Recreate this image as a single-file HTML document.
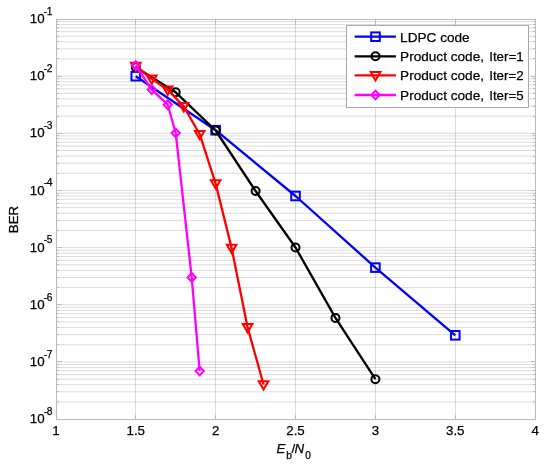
<!DOCTYPE html>
<html><head><meta charset="utf-8"><title>BER vs Eb/N0</title><style>html,body{margin:0;padding:0;background:#fff;width:550px;height:465px;overflow:hidden}svg{display:block;filter:blur(0.3px)}.leg text{stroke:#000;stroke-width:0.25px}</style></head><body>
<svg width="550" height="465" viewBox="0 0 550 465" style="font-family:'Liberation Sans',Arial,sans-serif;font-size:13.3px" fill="#000">
<rect width="550" height="465" fill="#fff"/>
<g shape-rendering="crispEdges">
<rect x="135" y="19" width="1" height="400" fill="rgba(38,38,38,0.16)"/>
<rect x="215" y="19" width="1" height="400" fill="rgba(38,38,38,0.16)"/>
<rect x="295" y="19" width="1" height="400" fill="rgba(38,38,38,0.16)"/>
<rect x="375" y="19" width="1" height="400" fill="rgba(38,38,38,0.16)"/>
<rect x="455" y="19" width="1" height="400" fill="rgba(38,38,38,0.16)"/>
</g>
<g>
<rect x="57" y="75.66" width="478" height="1" fill="rgba(38,38,38,0.16)"/>
<rect x="57" y="58.45" width="478" height="1" fill="rgba(38,38,38,0.16)"/>
<rect x="57" y="48.39" width="478" height="1" fill="rgba(38,38,38,0.16)"/>
<rect x="57" y="41.25" width="478" height="1" fill="rgba(38,38,38,0.16)"/>
<rect x="57" y="35.71" width="478" height="1" fill="rgba(38,38,38,0.16)"/>
<rect x="57" y="31.18" width="478" height="1" fill="rgba(38,38,38,0.16)"/>
<rect x="57" y="27.35" width="478" height="1" fill="rgba(38,38,38,0.16)"/>
<rect x="57" y="24.04" width="478" height="1" fill="rgba(38,38,38,0.16)"/>
<rect x="57" y="21.12" width="478" height="1" fill="rgba(38,38,38,0.16)"/>
<rect x="57" y="132.81" width="478" height="1" fill="rgba(38,38,38,0.16)"/>
<rect x="57" y="115.61" width="478" height="1" fill="rgba(38,38,38,0.16)"/>
<rect x="57" y="105.54" width="478" height="1" fill="rgba(38,38,38,0.16)"/>
<rect x="57" y="98.40" width="478" height="1" fill="rgba(38,38,38,0.16)"/>
<rect x="57" y="92.86" width="478" height="1" fill="rgba(38,38,38,0.16)"/>
<rect x="57" y="88.34" width="478" height="1" fill="rgba(38,38,38,0.16)"/>
<rect x="57" y="84.51" width="478" height="1" fill="rgba(38,38,38,0.16)"/>
<rect x="57" y="81.20" width="478" height="1" fill="rgba(38,38,38,0.16)"/>
<rect x="57" y="78.27" width="478" height="1" fill="rgba(38,38,38,0.16)"/>
<rect x="57" y="189.97" width="478" height="1" fill="rgba(38,38,38,0.16)"/>
<rect x="57" y="172.77" width="478" height="1" fill="rgba(38,38,38,0.16)"/>
<rect x="57" y="162.70" width="478" height="1" fill="rgba(38,38,38,0.16)"/>
<rect x="57" y="155.56" width="478" height="1" fill="rgba(38,38,38,0.16)"/>
<rect x="57" y="150.02" width="478" height="1" fill="rgba(38,38,38,0.16)"/>
<rect x="57" y="145.49" width="478" height="1" fill="rgba(38,38,38,0.16)"/>
<rect x="57" y="141.67" width="478" height="1" fill="rgba(38,38,38,0.16)"/>
<rect x="57" y="138.35" width="478" height="1" fill="rgba(38,38,38,0.16)"/>
<rect x="57" y="135.43" width="478" height="1" fill="rgba(38,38,38,0.16)"/>
<rect x="57" y="247.13" width="478" height="1" fill="rgba(38,38,38,0.16)"/>
<rect x="57" y="229.92" width="478" height="1" fill="rgba(38,38,38,0.16)"/>
<rect x="57" y="219.86" width="478" height="1" fill="rgba(38,38,38,0.16)"/>
<rect x="57" y="212.72" width="478" height="1" fill="rgba(38,38,38,0.16)"/>
<rect x="57" y="207.18" width="478" height="1" fill="rgba(38,38,38,0.16)"/>
<rect x="57" y="202.65" width="478" height="1" fill="rgba(38,38,38,0.16)"/>
<rect x="57" y="198.82" width="478" height="1" fill="rgba(38,38,38,0.16)"/>
<rect x="57" y="195.51" width="478" height="1" fill="rgba(38,38,38,0.16)"/>
<rect x="57" y="192.59" width="478" height="1" fill="rgba(38,38,38,0.16)"/>
<rect x="57" y="304.28" width="478" height="1" fill="rgba(38,38,38,0.16)"/>
<rect x="57" y="287.08" width="478" height="1" fill="rgba(38,38,38,0.16)"/>
<rect x="57" y="277.01" width="478" height="1" fill="rgba(38,38,38,0.16)"/>
<rect x="57" y="269.87" width="478" height="1" fill="rgba(38,38,38,0.16)"/>
<rect x="57" y="264.33" width="478" height="1" fill="rgba(38,38,38,0.16)"/>
<rect x="57" y="259.81" width="478" height="1" fill="rgba(38,38,38,0.16)"/>
<rect x="57" y="255.98" width="478" height="1" fill="rgba(38,38,38,0.16)"/>
<rect x="57" y="252.67" width="478" height="1" fill="rgba(38,38,38,0.16)"/>
<rect x="57" y="249.74" width="478" height="1" fill="rgba(38,38,38,0.16)"/>
<rect x="57" y="361.44" width="478" height="1" fill="rgba(38,38,38,0.16)"/>
<rect x="57" y="344.24" width="478" height="1" fill="rgba(38,38,38,0.16)"/>
<rect x="57" y="334.17" width="478" height="1" fill="rgba(38,38,38,0.16)"/>
<rect x="57" y="327.03" width="478" height="1" fill="rgba(38,38,38,0.16)"/>
<rect x="57" y="321.49" width="478" height="1" fill="rgba(38,38,38,0.16)"/>
<rect x="57" y="316.97" width="478" height="1" fill="rgba(38,38,38,0.16)"/>
<rect x="57" y="313.14" width="478" height="1" fill="rgba(38,38,38,0.16)"/>
<rect x="57" y="309.82" width="478" height="1" fill="rgba(38,38,38,0.16)"/>
<rect x="57" y="306.90" width="478" height="1" fill="rgba(38,38,38,0.16)"/>
<rect x="57" y="401.39" width="478" height="1" fill="rgba(38,38,38,0.16)"/>
<rect x="57" y="391.33" width="478" height="1" fill="rgba(38,38,38,0.16)"/>
<rect x="57" y="384.19" width="478" height="1" fill="rgba(38,38,38,0.16)"/>
<rect x="57" y="378.65" width="478" height="1" fill="rgba(38,38,38,0.16)"/>
<rect x="57" y="374.12" width="478" height="1" fill="rgba(38,38,38,0.16)"/>
<rect x="57" y="370.30" width="478" height="1" fill="rgba(38,38,38,0.16)"/>
<rect x="57" y="366.98" width="478" height="1" fill="rgba(38,38,38,0.16)"/>
<rect x="57" y="364.06" width="478" height="1" fill="rgba(38,38,38,0.16)"/>
</g>
<g shape-rendering="crispEdges">
<rect x="56" y="414.5" width="1" height="5.5" fill="#bcbcbc"/>
<rect x="56" y="19" width="1" height="5.5" fill="#bcbcbc"/>
<rect x="135" y="414.5" width="1" height="5.5" fill="#bcbcbc"/>
<rect x="135" y="19" width="1" height="5.5" fill="#bcbcbc"/>
<rect x="215" y="414.5" width="1" height="5.5" fill="#bcbcbc"/>
<rect x="215" y="19" width="1" height="5.5" fill="#bcbcbc"/>
<rect x="295" y="414.5" width="1" height="5.5" fill="#bcbcbc"/>
<rect x="295" y="19" width="1" height="5.5" fill="#bcbcbc"/>
<rect x="375" y="414.5" width="1" height="5.5" fill="#bcbcbc"/>
<rect x="375" y="19" width="1" height="5.5" fill="#bcbcbc"/>
<rect x="455" y="414.5" width="1" height="5.5" fill="#bcbcbc"/>
<rect x="455" y="19" width="1" height="5.5" fill="#bcbcbc"/>
<rect x="535" y="414.5" width="1" height="5.5" fill="#bcbcbc"/>
<rect x="535" y="19" width="1" height="5.5" fill="#bcbcbc"/>
<rect x="56" y="19" width="5.5" height="1" fill="#bcbcbc"/>
<rect x="530.5" y="19" width="5.5" height="1" fill="#bcbcbc"/>
<rect x="56" y="58" width="3.2" height="1" fill="#bcbcbc"/>
<rect x="532.8" y="58" width="3.2" height="1" fill="#bcbcbc"/>
<rect x="56" y="48" width="3.2" height="1" fill="#bcbcbc"/>
<rect x="532.8" y="48" width="3.2" height="1" fill="#bcbcbc"/>
<rect x="56" y="41" width="3.2" height="1" fill="#bcbcbc"/>
<rect x="532.8" y="41" width="3.2" height="1" fill="#bcbcbc"/>
<rect x="56" y="36" width="3.2" height="1" fill="#bcbcbc"/>
<rect x="532.8" y="36" width="3.2" height="1" fill="#bcbcbc"/>
<rect x="56" y="31" width="3.2" height="1" fill="#bcbcbc"/>
<rect x="532.8" y="31" width="3.2" height="1" fill="#bcbcbc"/>
<rect x="56" y="27" width="3.2" height="1" fill="#bcbcbc"/>
<rect x="532.8" y="27" width="3.2" height="1" fill="#bcbcbc"/>
<rect x="56" y="24" width="3.2" height="1" fill="#bcbcbc"/>
<rect x="532.8" y="24" width="3.2" height="1" fill="#bcbcbc"/>
<rect x="56" y="21" width="3.2" height="1" fill="#bcbcbc"/>
<rect x="532.8" y="21" width="3.2" height="1" fill="#bcbcbc"/>
<rect x="56" y="76" width="5.5" height="1" fill="#bcbcbc"/>
<rect x="530.5" y="76" width="5.5" height="1" fill="#bcbcbc"/>
<rect x="56" y="116" width="3.2" height="1" fill="#bcbcbc"/>
<rect x="532.8" y="116" width="3.2" height="1" fill="#bcbcbc"/>
<rect x="56" y="106" width="3.2" height="1" fill="#bcbcbc"/>
<rect x="532.8" y="106" width="3.2" height="1" fill="#bcbcbc"/>
<rect x="56" y="98" width="3.2" height="1" fill="#bcbcbc"/>
<rect x="532.8" y="98" width="3.2" height="1" fill="#bcbcbc"/>
<rect x="56" y="93" width="3.2" height="1" fill="#bcbcbc"/>
<rect x="532.8" y="93" width="3.2" height="1" fill="#bcbcbc"/>
<rect x="56" y="88" width="3.2" height="1" fill="#bcbcbc"/>
<rect x="532.8" y="88" width="3.2" height="1" fill="#bcbcbc"/>
<rect x="56" y="84" width="3.2" height="1" fill="#bcbcbc"/>
<rect x="532.8" y="84" width="3.2" height="1" fill="#bcbcbc"/>
<rect x="56" y="81" width="3.2" height="1" fill="#bcbcbc"/>
<rect x="532.8" y="81" width="3.2" height="1" fill="#bcbcbc"/>
<rect x="56" y="78" width="3.2" height="1" fill="#bcbcbc"/>
<rect x="532.8" y="78" width="3.2" height="1" fill="#bcbcbc"/>
<rect x="56" y="133" width="5.5" height="1" fill="#bcbcbc"/>
<rect x="530.5" y="133" width="5.5" height="1" fill="#bcbcbc"/>
<rect x="56" y="173" width="3.2" height="1" fill="#bcbcbc"/>
<rect x="532.8" y="173" width="3.2" height="1" fill="#bcbcbc"/>
<rect x="56" y="163" width="3.2" height="1" fill="#bcbcbc"/>
<rect x="532.8" y="163" width="3.2" height="1" fill="#bcbcbc"/>
<rect x="56" y="156" width="3.2" height="1" fill="#bcbcbc"/>
<rect x="532.8" y="156" width="3.2" height="1" fill="#bcbcbc"/>
<rect x="56" y="150" width="3.2" height="1" fill="#bcbcbc"/>
<rect x="532.8" y="150" width="3.2" height="1" fill="#bcbcbc"/>
<rect x="56" y="145" width="3.2" height="1" fill="#bcbcbc"/>
<rect x="532.8" y="145" width="3.2" height="1" fill="#bcbcbc"/>
<rect x="56" y="142" width="3.2" height="1" fill="#bcbcbc"/>
<rect x="532.8" y="142" width="3.2" height="1" fill="#bcbcbc"/>
<rect x="56" y="138" width="3.2" height="1" fill="#bcbcbc"/>
<rect x="532.8" y="138" width="3.2" height="1" fill="#bcbcbc"/>
<rect x="56" y="135" width="3.2" height="1" fill="#bcbcbc"/>
<rect x="532.8" y="135" width="3.2" height="1" fill="#bcbcbc"/>
<rect x="56" y="190" width="5.5" height="1" fill="#bcbcbc"/>
<rect x="530.5" y="190" width="5.5" height="1" fill="#bcbcbc"/>
<rect x="56" y="230" width="3.2" height="1" fill="#bcbcbc"/>
<rect x="532.8" y="230" width="3.2" height="1" fill="#bcbcbc"/>
<rect x="56" y="220" width="3.2" height="1" fill="#bcbcbc"/>
<rect x="532.8" y="220" width="3.2" height="1" fill="#bcbcbc"/>
<rect x="56" y="213" width="3.2" height="1" fill="#bcbcbc"/>
<rect x="532.8" y="213" width="3.2" height="1" fill="#bcbcbc"/>
<rect x="56" y="207" width="3.2" height="1" fill="#bcbcbc"/>
<rect x="532.8" y="207" width="3.2" height="1" fill="#bcbcbc"/>
<rect x="56" y="203" width="3.2" height="1" fill="#bcbcbc"/>
<rect x="532.8" y="203" width="3.2" height="1" fill="#bcbcbc"/>
<rect x="56" y="199" width="3.2" height="1" fill="#bcbcbc"/>
<rect x="532.8" y="199" width="3.2" height="1" fill="#bcbcbc"/>
<rect x="56" y="195" width="3.2" height="1" fill="#bcbcbc"/>
<rect x="532.8" y="195" width="3.2" height="1" fill="#bcbcbc"/>
<rect x="56" y="193" width="3.2" height="1" fill="#bcbcbc"/>
<rect x="532.8" y="193" width="3.2" height="1" fill="#bcbcbc"/>
<rect x="56" y="247" width="5.5" height="1" fill="#bcbcbc"/>
<rect x="530.5" y="247" width="5.5" height="1" fill="#bcbcbc"/>
<rect x="56" y="287" width="3.2" height="1" fill="#bcbcbc"/>
<rect x="532.8" y="287" width="3.2" height="1" fill="#bcbcbc"/>
<rect x="56" y="277" width="3.2" height="1" fill="#bcbcbc"/>
<rect x="532.8" y="277" width="3.2" height="1" fill="#bcbcbc"/>
<rect x="56" y="270" width="3.2" height="1" fill="#bcbcbc"/>
<rect x="532.8" y="270" width="3.2" height="1" fill="#bcbcbc"/>
<rect x="56" y="264" width="3.2" height="1" fill="#bcbcbc"/>
<rect x="532.8" y="264" width="3.2" height="1" fill="#bcbcbc"/>
<rect x="56" y="260" width="3.2" height="1" fill="#bcbcbc"/>
<rect x="532.8" y="260" width="3.2" height="1" fill="#bcbcbc"/>
<rect x="56" y="256" width="3.2" height="1" fill="#bcbcbc"/>
<rect x="532.8" y="256" width="3.2" height="1" fill="#bcbcbc"/>
<rect x="56" y="253" width="3.2" height="1" fill="#bcbcbc"/>
<rect x="532.8" y="253" width="3.2" height="1" fill="#bcbcbc"/>
<rect x="56" y="250" width="3.2" height="1" fill="#bcbcbc"/>
<rect x="532.8" y="250" width="3.2" height="1" fill="#bcbcbc"/>
<rect x="56" y="304" width="5.5" height="1" fill="#bcbcbc"/>
<rect x="530.5" y="304" width="5.5" height="1" fill="#bcbcbc"/>
<rect x="56" y="344" width="3.2" height="1" fill="#bcbcbc"/>
<rect x="532.8" y="344" width="3.2" height="1" fill="#bcbcbc"/>
<rect x="56" y="334" width="3.2" height="1" fill="#bcbcbc"/>
<rect x="532.8" y="334" width="3.2" height="1" fill="#bcbcbc"/>
<rect x="56" y="327" width="3.2" height="1" fill="#bcbcbc"/>
<rect x="532.8" y="327" width="3.2" height="1" fill="#bcbcbc"/>
<rect x="56" y="321" width="3.2" height="1" fill="#bcbcbc"/>
<rect x="532.8" y="321" width="3.2" height="1" fill="#bcbcbc"/>
<rect x="56" y="317" width="3.2" height="1" fill="#bcbcbc"/>
<rect x="532.8" y="317" width="3.2" height="1" fill="#bcbcbc"/>
<rect x="56" y="313" width="3.2" height="1" fill="#bcbcbc"/>
<rect x="532.8" y="313" width="3.2" height="1" fill="#bcbcbc"/>
<rect x="56" y="310" width="3.2" height="1" fill="#bcbcbc"/>
<rect x="532.8" y="310" width="3.2" height="1" fill="#bcbcbc"/>
<rect x="56" y="307" width="3.2" height="1" fill="#bcbcbc"/>
<rect x="532.8" y="307" width="3.2" height="1" fill="#bcbcbc"/>
<rect x="56" y="361" width="5.5" height="1" fill="#bcbcbc"/>
<rect x="530.5" y="361" width="5.5" height="1" fill="#bcbcbc"/>
<rect x="56" y="401" width="3.2" height="1" fill="#bcbcbc"/>
<rect x="532.8" y="401" width="3.2" height="1" fill="#bcbcbc"/>
<rect x="56" y="391" width="3.2" height="1" fill="#bcbcbc"/>
<rect x="532.8" y="391" width="3.2" height="1" fill="#bcbcbc"/>
<rect x="56" y="384" width="3.2" height="1" fill="#bcbcbc"/>
<rect x="532.8" y="384" width="3.2" height="1" fill="#bcbcbc"/>
<rect x="56" y="379" width="3.2" height="1" fill="#bcbcbc"/>
<rect x="532.8" y="379" width="3.2" height="1" fill="#bcbcbc"/>
<rect x="56" y="374" width="3.2" height="1" fill="#bcbcbc"/>
<rect x="532.8" y="374" width="3.2" height="1" fill="#bcbcbc"/>
<rect x="56" y="370" width="3.2" height="1" fill="#bcbcbc"/>
<rect x="532.8" y="370" width="3.2" height="1" fill="#bcbcbc"/>
<rect x="56" y="367" width="3.2" height="1" fill="#bcbcbc"/>
<rect x="532.8" y="367" width="3.2" height="1" fill="#bcbcbc"/>
<rect x="56" y="364" width="3.2" height="1" fill="#bcbcbc"/>
<rect x="532.8" y="364" width="3.2" height="1" fill="#bcbcbc"/>
<rect x="56" y="419" width="5.5" height="1" fill="#bcbcbc"/>
<rect x="530.5" y="419" width="5.5" height="1" fill="#bcbcbc"/>
<rect x="56.5" y="19.5" width="479.0" height="400.0" fill="none" stroke="#bababa" stroke-width="1"/>
</g>
<g>
<polyline points="135.78,76.2 215.65,130.2 295.52,196 375.4,267.6 455.27,335.3" fill="none" stroke="#0000ff" stroke-width="2.3" stroke-linejoin="round"/>
<rect x="131.47" y="71.9" width="8.6" height="8.6" fill="none" stroke="#0000ff" stroke-width="2.0"/>
<rect x="211.35" y="125.9" width="8.6" height="8.6" fill="none" stroke="#0000ff" stroke-width="2.0"/>
<rect x="291.22" y="191.7" width="8.6" height="8.6" fill="none" stroke="#0000ff" stroke-width="2.0"/>
<rect x="371.1" y="263.3" width="8.6" height="8.6" fill="none" stroke="#0000ff" stroke-width="2.0"/>
<rect x="450.97" y="331" width="8.6" height="8.6" fill="none" stroke="#0000ff" stroke-width="2.0"/>
<polyline points="135.78,67.2 175.71,92.3 215.65,130.5 255.59,191 295.52,247.5 335.46,317.9 375.4,379.2" fill="none" stroke="#000000" stroke-width="2.3" stroke-linejoin="round"/>
<circle cx="135.78" cy="67.2" r="4" fill="none" stroke="#000000" stroke-width="2.0"/>
<circle cx="175.71" cy="92.3" r="4" fill="none" stroke="#000000" stroke-width="2.0"/>
<circle cx="215.65" cy="130.5" r="4" fill="none" stroke="#000000" stroke-width="2.0"/>
<circle cx="255.59" cy="191" r="4" fill="none" stroke="#000000" stroke-width="2.0"/>
<circle cx="295.52" cy="247.5" r="4" fill="none" stroke="#000000" stroke-width="2.0"/>
<circle cx="335.46" cy="317.9" r="4" fill="none" stroke="#000000" stroke-width="2.0"/>
<circle cx="375.4" cy="379.2" r="4" fill="none" stroke="#000000" stroke-width="2.0"/>
<polyline points="135.78,66 151.75,78.8 167.72,89.8 183.7,106.4 199.67,134.2 215.65,183.6 231.63,248.1 247.6,327.4 263.57,384.5" fill="none" stroke="#ff0000" stroke-width="2.3" stroke-linejoin="round"/>
<path d="M130.97 62.7H140.58L135.78 71Z" fill="none" stroke="#ff0000" stroke-width="2.0"/>
<path d="M146.95 75.5H156.55L151.75 83.8Z" fill="none" stroke="#ff0000" stroke-width="2.0"/>
<path d="M162.92 86.5H172.53L167.72 94.8Z" fill="none" stroke="#ff0000" stroke-width="2.0"/>
<path d="M178.9 103.1H188.5L183.7 111.4Z" fill="none" stroke="#ff0000" stroke-width="2.0"/>
<path d="M194.87 130.9H204.47L199.67 139.2Z" fill="none" stroke="#ff0000" stroke-width="2.0"/>
<path d="M210.85 180.3H220.45L215.65 188.6Z" fill="none" stroke="#ff0000" stroke-width="2.0"/>
<path d="M226.83 244.8H236.43L231.63 253.1Z" fill="none" stroke="#ff0000" stroke-width="2.0"/>
<path d="M242.8 324.1H252.4L247.6 332.4Z" fill="none" stroke="#ff0000" stroke-width="2.0"/>
<path d="M258.77 381.2H268.38L263.57 389.5Z" fill="none" stroke="#ff0000" stroke-width="2.0"/>
<polyline points="135.78,65.6 151.75,89.6 167.72,104.7 175.71,133 191.69,277.4 199.67,371" fill="none" stroke="#ff00ff" stroke-width="2.3" stroke-linejoin="round"/>
<path d="M135.78 61.2L139.88 65.6L135.78 70L131.68 65.6Z" fill="none" stroke="#ff00ff" stroke-width="2.0"/>
<path d="M151.75 85.2L155.85 89.6L151.75 94L147.65 89.6Z" fill="none" stroke="#ff00ff" stroke-width="2.0"/>
<path d="M167.72 100.3L171.82 104.7L167.72 109.1L163.62 104.7Z" fill="none" stroke="#ff00ff" stroke-width="2.0"/>
<path d="M175.71 128.6L179.81 133L175.71 137.4L171.61 133Z" fill="none" stroke="#ff00ff" stroke-width="2.0"/>
<path d="M191.69 273L195.79 277.4L191.69 281.8L187.59 277.4Z" fill="none" stroke="#ff00ff" stroke-width="2.0"/>
<path d="M199.67 366.6L203.77 371L199.67 375.4L195.57 371Z" fill="none" stroke="#ff00ff" stroke-width="2.0"/>
</g>
<g class="leg">
<rect x="346.5" y="25.5" width="182" height="82" fill="#fff" stroke="#a8a8a8" stroke-width="1"/>
<line x1="354.6" y1="36.7" x2="395.9" y2="36.7" stroke="#0000ff" stroke-width="2.3"/>
<rect x="371.2" y="32.4" width="8.6" height="8.6" fill="none" stroke="#0000ff" stroke-width="2.0"/>
<text x="400.1" y="41.5" style="font-size:13.6px">LDPC code</text>
<line x1="354.6" y1="56.3" x2="395.9" y2="56.3" stroke="#000000" stroke-width="2.3"/>
<circle cx="375.5" cy="56.3" r="4" fill="none" stroke="#000000" stroke-width="2.0"/>
<text y="61.1" style="font-size:13.6px"><tspan x="400.1">Product code,</tspan><tspan x="489.2" style="font-size:13.3px">Iter=1</tspan></text>
<line x1="354.6" y1="75.4" x2="395.9" y2="75.4" stroke="#ff0000" stroke-width="2.3"/>
<path d="M370.7 72.1H380.3L375.5 80.4Z" fill="none" stroke="#ff0000" stroke-width="2.0"/>
<text y="80.2" style="font-size:13.6px"><tspan x="400.1">Product code,</tspan><tspan x="489.2" style="font-size:13.3px">Iter=2</tspan></text>
<line x1="354.6" y1="95.0" x2="395.9" y2="95.0" stroke="#ff00ff" stroke-width="2.3"/>
<path d="M375.5 90.6L379.6 95L375.5 99.4L371.4 95Z" fill="none" stroke="#ff00ff" stroke-width="2.0"/>
<text y="99.8" style="font-size:13.6px"><tspan x="400.1">Product code,</tspan><tspan x="489.2" style="font-size:13.3px">Iter=5</tspan></text>
</g>
<g stroke="#000" stroke-width="0.25">
<text x="55.9" y="435" text-anchor="middle">1</text>
<text x="135.78" y="435" text-anchor="middle">1.5</text>
<text x="215.65" y="435" text-anchor="middle">2</text>
<text x="295.52" y="435" text-anchor="middle">2.5</text>
<text x="375.4" y="435" text-anchor="middle">3</text>
<text x="455.27" y="435" text-anchor="middle">3.5</text>
<text x="535.15" y="435" text-anchor="middle">4</text>
<text x="44.6" y="23.2" text-anchor="end">10</text>
<text x="43.8" y="14.9" font-size="10.2" letter-spacing="-0.4">-1</text>
<text x="44.6" y="80.34" text-anchor="end">10</text>
<text x="43.8" y="72.04" font-size="10.2" letter-spacing="-0.4">-2</text>
<text x="44.6" y="137.49" text-anchor="end">10</text>
<text x="43.8" y="129.19" font-size="10.2" letter-spacing="-0.4">-3</text>
<text x="44.6" y="194.63" text-anchor="end">10</text>
<text x="43.8" y="186.33" font-size="10.2" letter-spacing="-0.4">-4</text>
<text x="44.6" y="251.77" text-anchor="end">10</text>
<text x="43.8" y="243.47" font-size="10.2" letter-spacing="-0.4">-5</text>
<text x="44.6" y="308.92" text-anchor="end">10</text>
<text x="43.8" y="300.62" font-size="10.2" letter-spacing="-0.4">-6</text>
<text x="44.6" y="366.06" text-anchor="end">10</text>
<text x="43.8" y="357.76" font-size="10.2" letter-spacing="-0.4">-7</text>
<text x="44.6" y="423.2" text-anchor="end">10</text>
<text x="43.8" y="414.9" font-size="10.2" letter-spacing="-0.4">-8</text>
<text transform="translate(18.2 219.5) rotate(-90)" text-anchor="middle">BER</text>
<text y="452.8"><tspan x="276.6" font-style="italic">E</tspan><tspan x="286.2" y="458.7" font-size="10.2">b</tspan><tspan x="291.5" y="452.8">/</tspan><tspan x="294.6" font-style="italic">N</tspan><tspan x="305.2" y="458.7" font-size="10.2">0</tspan></text>
</g>
</svg>
</body></html>
